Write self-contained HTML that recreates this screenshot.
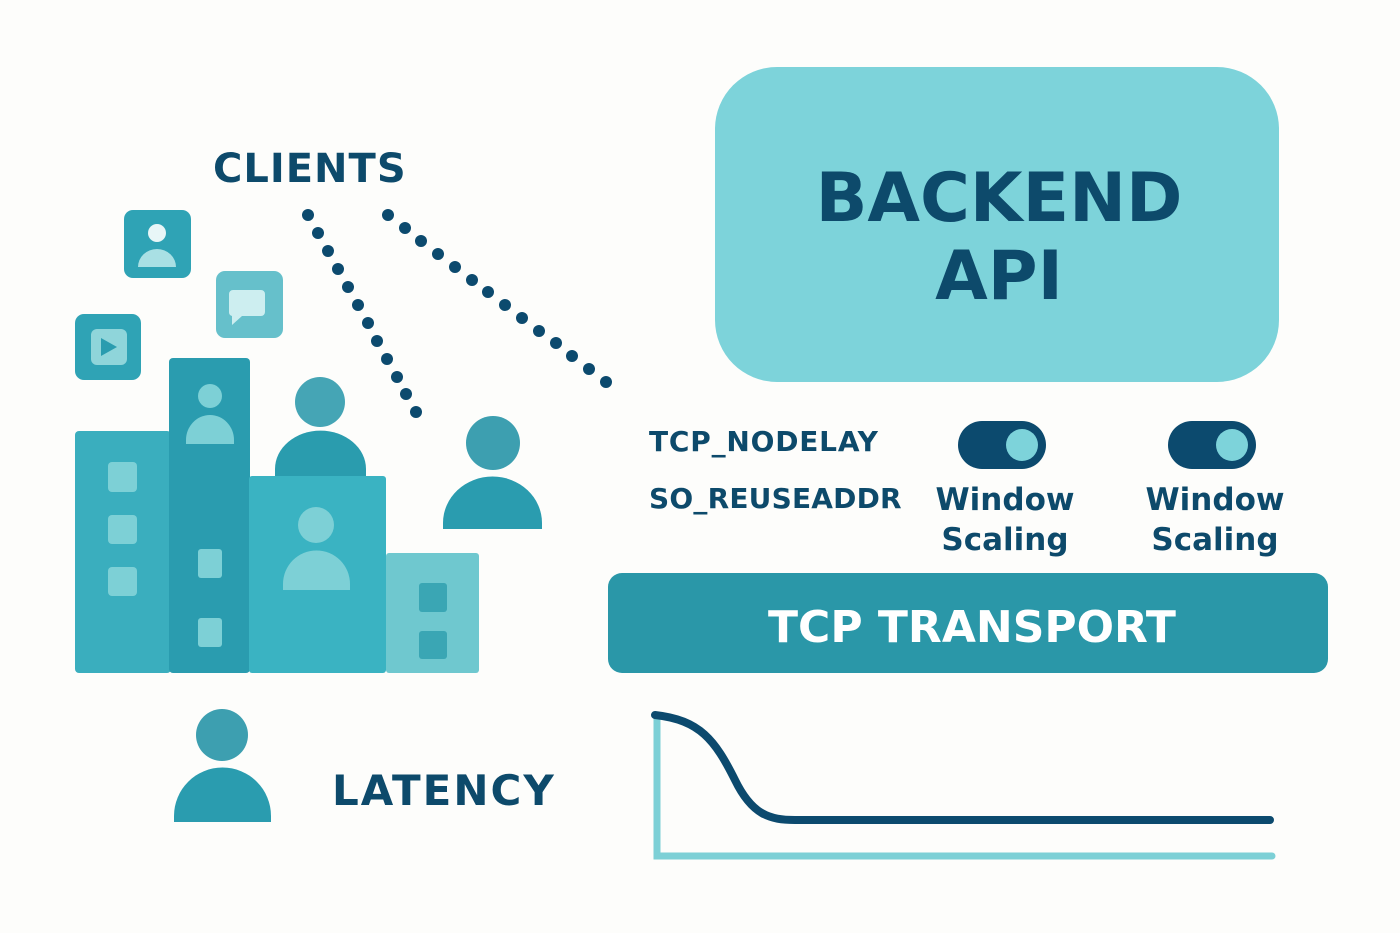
<!DOCTYPE html>
<html><head><meta charset="utf-8"><style>
html,body{margin:0;padding:0;background:#fdfdfb;}
svg{display:block}
text{font-family:"DejaVu Sans","Liberation Sans",sans-serif;font-weight:bold;fill:#0d4a6b}
</style></head><body>
<svg width="1400" height="933" viewBox="0 0 1400 933">
<rect width="1400" height="933" fill="#fdfdfb"/>
<text x="213" y="182" font-size="40" letter-spacing="1">CLIENTS</text>
<g fill="#0c4a6e">
<circle cx="308" cy="215" r="6"/><circle cx="318" cy="233" r="6"/><circle cx="328" cy="251" r="6"/><circle cx="338" cy="269" r="6"/><circle cx="348" cy="287" r="6"/><circle cx="358" cy="305" r="6"/><circle cx="368" cy="323" r="6"/><circle cx="377" cy="341" r="6"/><circle cx="387" cy="359" r="6"/><circle cx="397" cy="377" r="6"/><circle cx="406" cy="394" r="6"/><circle cx="416" cy="412" r="6"/>
<circle cx="388" cy="215" r="6"/><circle cx="405" cy="228" r="6"/><circle cx="421" cy="241" r="6"/><circle cx="438" cy="254" r="6"/><circle cx="455" cy="267" r="6"/><circle cx="472" cy="280" r="6"/><circle cx="488" cy="292" r="6"/><circle cx="505" cy="305" r="6"/><circle cx="522" cy="318" r="6"/><circle cx="539" cy="331" r="6"/><circle cx="556" cy="343" r="6"/><circle cx="572" cy="356" r="6"/><circle cx="589" cy="369" r="6"/><circle cx="606" cy="382" r="6"/>
</g>
<rect x="124" y="210" width="67" height="68" rx="9" fill="#2fa3b5"/>
<circle cx="157" cy="233" r="9" fill="#e8f6f7"/><path d="M138 267 a19 18 0 0 1 38 0 z" fill="#a9e0e4"/>
<rect x="216" y="271" width="67" height="67" rx="9" fill="#66c0cb"/>
<path d="M233 290 h28 a4 4 0 0 1 4 4 v18 a4 4 0 0 1 -4 4 h-19 l-10 9 v-9 a4 4 0 0 1 -3 -4 v-18 a4 4 0 0 1 4 -4z" fill="#cdeef0"/>
<rect x="75" y="314" width="66" height="66" rx="9" fill="#2fa3b5"/>
<rect x="91" y="329" width="36" height="36" rx="6" fill="#8fd5da"/><path d="M101 338 l16 9 l-16 9z" fill="#2a9caf"/>
<circle cx="320" cy="402" r="25" fill="#45a5b5"/>
<path d="M275 477 v-8 a45 38 0 0 1 91 0 v8z" fill="#2a9cae"/>
<rect x="75" y="431" width="96" height="242" rx="4" fill="#3aaebe"/>
<rect x="169" y="358" width="81" height="315" rx="4" fill="#2a9caf"/>
<rect x="249" y="476" width="137" height="197" rx="3" fill="#3ab3c2"/>
<rect x="386" y="553" width="93" height="120" rx="3" fill="#6fc8cf"/>
<g fill="#7dd0d6">
<rect x="108" y="462" width="29" height="30" rx="4"/><rect x="108" y="515" width="29" height="29" rx="4"/><rect x="108" y="567" width="29" height="29" rx="4"/>
<rect x="198" y="549" width="24" height="29" rx="3"/><rect x="198" y="618" width="24" height="29" rx="3"/>
</g>
<rect x="419" y="583" width="28" height="29" rx="3" fill="#3aa6b4"/><rect x="419" y="631" width="28" height="28" rx="3" fill="#3aa6b4"/>
<circle cx="210" cy="396" r="12" fill="#7dd0d6"/><path d="M186 444 v-4 a24 25 0 0 1 48 0 v4z" fill="#7dd0d6"/>
<circle cx="316" cy="525" r="18" fill="#7dd0d6"/><path d="M283 590 v-6 a33 33 0 0 1 67 0 v6z" fill="#7dd0d6"/>
<circle cx="493" cy="443" r="27" fill="#3d9fb0"/>
<path d="M443 529 v-6 a49 46 0 0 1 99 0 v6z" fill="#2a9caf"/>
<circle cx="222" cy="735" r="26" fill="#3d9fb0"/>
<path d="M174 822 v-6 a48 48 0 0 1 97 0 v6z" fill="#2a9caf"/>
<text x="332" y="805" font-size="42" letter-spacing="2">LATENCY</text>
<rect x="715" y="67" width="564" height="315" rx="62" fill="#7dd3da"/>
<text x="999" y="221" font-size="68" text-anchor="middle">BACKEND</text>
<text x="999" y="299" font-size="68" text-anchor="middle">API</text>
<text x="649" y="451" font-size="28" letter-spacing="0.8">TCP_NODELAY</text>
<text x="649" y="508" font-size="28" letter-spacing="0.2">SO_REUSEADDR</text>
<rect x="958" y="421" width="88" height="48" rx="24" fill="#0c4a6e"/><circle cx="1022" cy="445" r="16" fill="#7dd3da"/>
<rect x="1168" y="421" width="88" height="48" rx="24" fill="#0c4a6e"/><circle cx="1232" cy="445" r="16" fill="#7dd3da"/>
<g font-size="31" text-anchor="middle"><text x="1005" y="510">Window</text><text x="1005" y="550">Scaling</text>
<text x="1215" y="510">Window</text><text x="1215" y="550">Scaling</text></g>
<rect x="608" y="573" width="720" height="100" rx="14" fill="#2a97a8"/>
<text x="972" y="642" font-size="44" text-anchor="middle" style="fill:#fff">TCP TRANSPORT</text>
<path d="M657 718 V856 H1272" fill="none" stroke="#7dd0d6" stroke-width="7" stroke-linecap="round"/>
<path d="M655 715 C700 720 715 740 735 780 C752 815 770 820 795 820 H1270" fill="none" stroke="#0c4a6e" stroke-width="8" stroke-linecap="round"/>
</svg>
</body></html>
